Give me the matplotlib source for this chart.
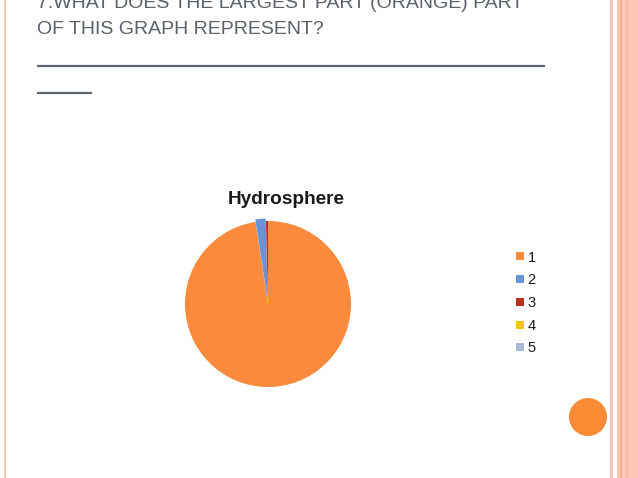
import matplotlib
matplotlib.use("Agg")
import matplotlib.pyplot as plt
from matplotlib.patches import Rectangle, Circle

# pie data
labels = ["1", "2", "3", "4", "5"]
shares = [97.6, 2.0, 0.4, 0.0, 0.0]
colors = ["#FC8A3C", "#6A93D6", "#B8321F", "#F5C518", "#A9BAD9"]
chart_title = "Hydrosphere"

question_1 = "7.WHAT DOES THE LARGEST PART (ORANGE) PART"
question_2 = "OF THIS GRAPH REPRESENT?"

W, H = 638, 478
fig = plt.figure(figsize=(W / 100, H / 100), dpi=100)
fig.patch.set_facecolor("white")
plt.rcParams["font.family"] = ["Liberation Sans", "DejaVu Sans"]

# slide decorations in pixel coordinates
deco = fig.add_axes([0, 0, 1, 1])
deco.set_xlim(0, W)
deco.set_ylim(H, 0)
deco.axis("off")

deco.add_patch(Rectangle((3.5, 0), 2.5, H, color="#F4C9BA", lw=0))
deco.add_patch(Rectangle((610, 0), 2.5, H, color="#F5C6B5", lw=0))
deco.add_patch(Rectangle((616.5, 0), W - 616.5, H, color="#FDC9B4", lw=0))
deco.add_patch(Rectangle((619.5, 0), 2.0, H, color="#F0B39B", lw=0))
deco.add_patch(Rectangle((626, 0), 2.0, H, color="#F6BCA5", lw=0))
deco.add_patch(Circle((588, 417), 19, color="#FB8A35", lw=0))

# the first question line is cut by the top edge, as on the slide
text_color = "#5A616B"
deco.text(37, 8, question_1, fontsize=14, color=text_color, va="baseline", ha="left")
deco.text(37, 34, question_2, fontsize=14, color=text_color, va="baseline", ha="left")
deco.plot([37, 545], [66, 66], color="#5F6670", lw=1.6, solid_capstyle="butt")
deco.plot([37, 92], [93, 93], color="#5F6670", lw=1.6, solid_capstyle="butt")

deco.text(286, 203.5, chart_title, fontsize=13.7, fontweight="bold",
          color="#1A1A1A", ha="center", va="baseline")

# pie
cx, cy, r = 268, 304, 83
ax = fig.add_axes([(cx - r) / W, (H - cy - r) / H, 2 * r / W, 2 * r / H])
wedges, _ = ax.pie(shares, colors=colors, startangle=90, counterclock=False,
                   explode=[0, 0.03, 0, 0, 0], radius=1.0,
                   wedgeprops=dict(linewidth=0))
ax.set_xlim(-1, 1)
ax.set_ylim(-1, 1)
ax.set_aspect("equal")
ax.axis("off")

fig.legend(wedges, labels, loc="center left",
           bbox_to_anchor=(516 / W, 1 - 303 / H), frameon=False,
           fontsize=10.5, labelspacing=0.6, handlelength=0.55,
           handleheight=0.48, handletextpad=0.25, borderpad=0,
           borderaxespad=0, labelcolor="#1A1A1A")

fig.savefig("out.png", dpi=100, facecolor="white")
